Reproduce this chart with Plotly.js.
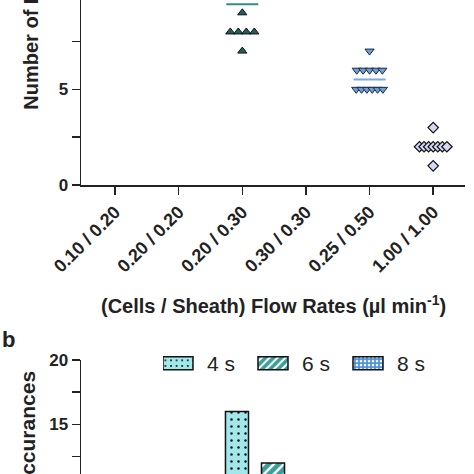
<!DOCTYPE html>
<html><head><meta charset="utf-8">
<script src="https://cdn.plot.ly/plotly-3.0.1.min.js"></script>
<style>html,body{margin:0;padding:0;background:#fff}#chart{width:474px;height:474px}</style>
</head><body><div id="chart"></div>
<script>
// ---- data (panel a) ----
const flowRates = ["0.10 / 0.20","0.20 / 0.20","0.20 / 0.30","0.30 / 0.30","0.25 / 0.50","1.00 / 1.00"];
const countsAt020_030 = [9, 8, 8, 8, 8, 7];
const countsAt025_050 = [7, 6, 6, 6, 6, 6, 5, 5, 5, 5, 5, 5];
const countsAt100_100 = [3, 2, 2, 2, 2, 2, 2, 2, 1];
const meanAt020_030 = 9.45;
const meanAt025_050 = 5.52;
// ---- data (panel b) ----
const sizeBins = ["1", "2", "3"];
const occ4s = [6, 16, 3];
const occ6s = [8, 12, 2];
const occ8s = [9, 10, 4];

const FONT = "Liberation Sans, Arial, Helvetica, sans-serif";
const INK = "#222";
const W = 474, H = 474;
const plotL = 81, plotR = 465;
const xr = [-0.535, 5.5];
const pxPerUnit = (plotR - plotL) / (xr[1] - xr[0]);

function swarm(values, idx) {
  const counts = {}; values.forEach(v => counts[v] = (counts[v] || 0) + 1);
  const seen = {}; const xs = [], ys = [];
  values.forEach(v => {
    const n = counts[v]; const k = seen[v] || 0; seen[v] = k + 1;
    const sp = Math.min(8.4, 32 / n) / pxPerUnit;
    xs.push(idx + (k - (n - 1) / 2) * sp); ys.push(v);
  });
  return {x: xs, y: ys};
}
function meanLine(idx, m, color) {
  const half = 16 / pxPerUnit;
  return {x: [idx - half, idx + half], y: [m, m], mode: 'lines', type: 'scatter',
    line: {color: color, width: 2}, showlegend: false, hoverinfo: 'skip', xaxis: 'x', yaxis: 'y'};
}
const iA = flowRates.indexOf("0.20 / 0.30"), iB = flowRates.indexOf("0.25 / 0.50"), iC = flowRates.indexOf("1.00 / 1.00");
const sA = swarm(countsAt020_030, iA), sB = swarm(countsAt025_050, iB), sC = swarm(countsAt100_100, iC);

const traces = [
  meanLine(iA, meanAt020_030, '#2f8c86'),
  meanLine(iB, meanAt025_050, '#7ea8dc'),
  {x: sA.x, y: sA.y, mode: 'markers', type: 'scatter', showlegend: false, xaxis: 'x', yaxis: 'y',
   marker: {symbol: 'triangle-up', size: 8, color: '#1f5f5c', line: {color: '#111', width: 1}}},
  {x: sB.x, y: sB.y, mode: 'markers', type: 'scatter', showlegend: false, xaxis: 'x', yaxis: 'y',
   marker: {symbol: 'triangle-down', size: 8, color: '#6d9fd6', line: {color: '#1a2a44', width: 1}}},
  {x: sC.x, y: sC.y, mode: 'markers', type: 'scatter', showlegend: false, xaxis: 'x', yaxis: 'y',
   marker: {symbol: 'diamond', size: 8, color: '#d3d8f4', line: {color: '#111', width: 1.2}}},
  {x: sizeBins, y: occ4s, type: 'bar', name: '4 s', xaxis: 'x2', yaxis: 'y2',
   marker: {color: '#a2e8eb', line: {color: '#111', width: 1.5},
     pattern: {shape: '.', fgcolor: '#111', bgcolor: '#a2e8eb', size: 7, solidity: 0.1, fillmode: 'replace'}}},
  {x: sizeBins, y: occ6s, type: 'bar', name: '6 s', xaxis: 'x2', yaxis: 'y2',
   marker: {color: '#3a9e9b', line: {color: '#111', width: 1.5},
     pattern: {shape: '/', fgcolor: '#ffffff', bgcolor: '#3a9e9b', size: 7, solidity: 0.35, fillmode: 'replace'}}},
  {x: sizeBins, y: occ8s, type: 'bar', name: '8 s', xaxis: 'x2', yaxis: 'y2',
   marker: {color: '#4b8fd6', line: {color: '#111', width: 1.5},
     pattern: {shape: '.', fgcolor: '#ffffff', bgcolor: '#4b8fd6', size: 5, solidity: 0.35, fillmode: 'replace'}}}
];

const tickFont = {family: FONT, size: 18, color: INK, weight: 'bold'};
const yCommon = {showline: true, linecolor: INK, linewidth: 1.5, ticks: 'outside', ticklen: 8, tickwidth: 1.5,
  tickcolor: INK, showgrid: false, zeroline: false, tickfont: {family: FONT, size: 17, color: INK, weight: 'bold'},
  dtick: 5, tick0: 0,
  minor: {ticks: 'outside', dtick: 2.5, ticklen: 8, tickwidth: 1.5, tickcolor: INK, showgrid: false}};

const layout = {
  width: W, height: H, margin: {l: 0, r: 0, t: 0, b: 0},
  paper_bgcolor: '#fff', plot_bgcolor: '#fff', showlegend: true,
  xaxis: {domain: [plotL / W, plotR / W], range: xr, anchor: 'y', tickmode: 'array',
    tickvals: flowRates.map((_, i) => i), ticktext: flowRates, tickangle: -45,
    showline: true, linecolor: INK, linewidth: 1.5, ticks: 'outside', ticklen: 8, tickwidth: 1.5,
    tickcolor: INK, showgrid: false, zeroline: false, tickfont: tickFont},
  yaxis: Object.assign({}, yCommon, {domain: [1 - 185 / H, 1], range: [0, 9.67], anchor: 'x'}),
  xaxis2: {domain: [plotL / W, plotR / W], range: [-0.5, 2.5], anchor: 'y2', type: 'category',
    showline: false, showticklabels: false, ticks: '', showgrid: false, zeroline: false},
  yaxis2: Object.assign({}, yCommon, {domain: [0, 114 / H], range: [11.14, 20], anchor: 'x2'}),
  barmode: 'group', bargap: 0.156, bargroupgap: 0.36,
  legend: {orientation: 'h', x: 163 / W, xanchor: 'left', y: 1 - 363.5 / H, yanchor: 'middle',
    font: {family: FONT, size: 21, color: INK}, entrywidth: 46, entrywidthmode: 'pixels',
    itemwidth: 34, bgcolor: 'rgba(0,0,0,0)', borderwidth: 0, tracegroupgap: 0},
  annotations: [
    {text: 'Number of Droplets', textangle: -90, x: 31 / W, y: 1 - 16.7 / H, xref: 'paper', yref: 'paper',
     showarrow: false, xanchor: 'center', yanchor: 'middle', font: {family: FONT, size: 20, color: INK, weight: 'bold'}},
    {text: 'Number of Occurances', textangle: -90, x: 27 / W, y: 1 - 487 / H, xref: 'paper', yref: 'paper',
     showarrow: false, xanchor: 'center', yanchor: 'middle', font: {family: FONT, size: 21, color: INK, weight: 'bold'}},
    {text: '(Cells / Sheath) Flow Rates (µl min<sup>-1</sup>)', x: 273 / W, y: 1 - 304 / H, xref: 'paper', yref: 'paper',
     showarrow: false, xanchor: 'center', yanchor: 'middle', font: {family: FONT, size: 20, color: INK, weight: 'bold'}},
    {text: 'b', x: 0, y: 1 - 339 / H, xref: 'paper', yref: 'paper', showarrow: false,
     xanchor: 'left', yanchor: 'middle', font: {family: FONT, size: 22, color: INK, weight: 'bold'}}
  ]
};

Plotly.newPlot('chart', traces, layout, {displayModeBar: false, staticPlot: true}).then(gd => {
  gd.querySelectorAll('.legend .traces .legendpoints path').forEach(p => {
    p.setAttribute('d', 'M-22,-6.5H8V6.5H-22Z');
  });
});
</script></body></html>
